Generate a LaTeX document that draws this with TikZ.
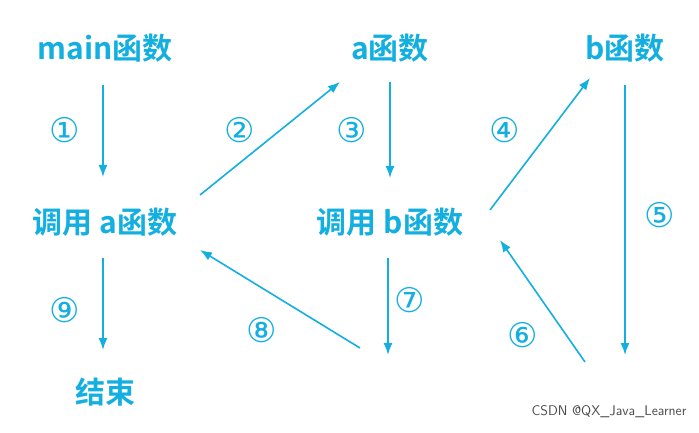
\documentclass[tikz,border=0pt]{standalone}
\usepackage{fontspec}
\newfontfamily\cjk{Noto Sans CJK SC Bold}
\newfontfamily\djfont{DejaVu Sans}
\definecolor{cy}{RGB}{20,175,225}
\usetikzlibrary{arrows.meta}
\tikzset{lbl/.style={text=cy,font=\cjk\fontsize{30}{30}\selectfont,inner sep=0pt},
num/.style={text=cy,font=\djfont\fontsize{34}{34}\selectfont,inner sep=0pt},
arr/.style={draw=cy,line width=1.6pt,-{Latex[length=12pt,width=9pt]}}}
\begin{document}
\begin{tikzpicture}[x=1pt,y=-1pt]
\useasboundingbox[fill=white] (0,0) rectangle (699,433);
\node[lbl] (main) at (105,48) {main函数};
\node[lbl] (afn) at (390,48) {a函数};
\node[lbl] (bfn) at (625,48) {b函数};
\node[lbl] (ca) at (105,222) {调用 a函数};
\node[lbl] (cb) at (390,222) {调用 b函数};
\node[lbl] (end) at (105,392) {结束};
\coordinate (p1) at (388,355);
\coordinate (p2) at (625,355);
\coordinate (q1) at (360,348);
\coordinate (q2) at (585,362);
\node[num] at (65,130) {①};
\node[num] at (240,130) {②};
\node[num] at (352,130) {③};
\node[num] at (505,130) {④};
\node[num] at (660,215) {⑤};
\node[num] at (523,335) {⑥};
\node[num] at (410,300) {⑦};
\node[num] at (262,330) {⑧};
\node[num] at (65,310) {⑨};
\draw[arr] (103,85) -- (103,177);
\draw[arr] (200,195) -- (340,82);
\draw[arr] (390,82) -- (390,178);
\draw[arr] (490,210) -- (590,78);
\draw[arr] (625,85) -- (p2);
\draw[arr] (q2) -- (500,240);
\draw[arr] (388,258) -- (p1);
\draw[arr] (q1) -- (200,250);
\draw[arr] (103,258) -- (103,350);
\node[text=black!70,font=\fontsize{14}{14}\selectfont\sffamily,anchor=east] (wm) at (690,412) {CSDN @QX\_Java\_Learner};
\end{tikzpicture}
\end{document}
